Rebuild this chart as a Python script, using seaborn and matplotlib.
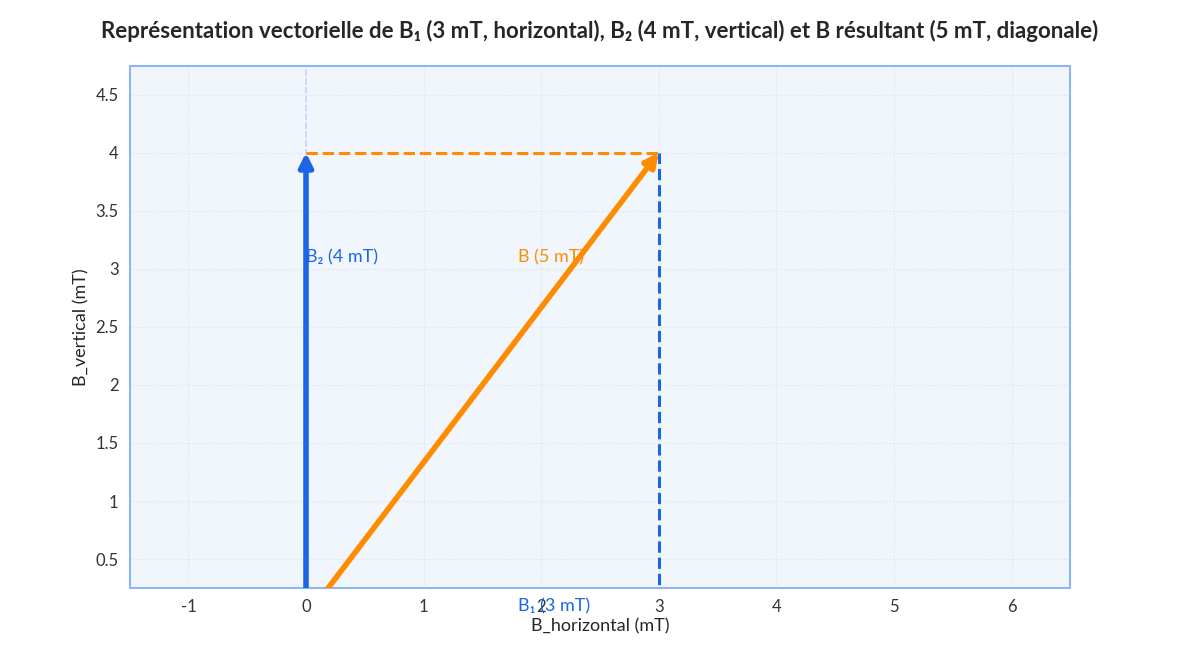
import matplotlib
matplotlib.use("Agg")
import matplotlib.pyplot as plt
import seaborn as sns
from matplotlib.patches import FancyArrowPatch
from matplotlib.ticker import FuncFormatter, MultipleLocator

# vector data (mT)
b1 = (3, 0)
b2 = (0, 4)
b_res = (3, 4)
labels = ["B₁ (3 mT)", "B₂ (4 mT)", "B (5 mT)"]
label_pos = [(1.8, 0.09), (0.0, 3.1), (1.8, 3.1)]

BLUE = "#1a66e6"
ORANGE = "#ff8c00"

sns.set_theme(style="white")
plt.rcParams["font.family"] = ["Lato", "DejaVu Sans"]

fig, ax = plt.subplots(figsize=(12, 6.55), dpi=100)
ax.set_facecolor("#f1f6fd")

ax.axvline(0, color="#c5d6f5", lw=1.2, ls="--", zorder=1)

# projection lines
ax.plot([0, b_res[0]], [b_res[1], b_res[1]], color=ORANGE, lw=2.2, ls="--", zorder=3)
ax.plot([b_res[0], b_res[0]], [0, b_res[1]], color=BLUE, lw=2.2, ls="--", zorder=3)

# vectors (clipped to the axes)
for vec, col in [(b1, BLUE), (b2, BLUE), (b_res, ORANGE)]:
    arr = FancyArrowPatch((0, 0), vec, arrowstyle="-|>", color=col, lw=4,
                          mutation_scale=20, shrinkA=0, shrinkB=0, zorder=4)
    ax.add_patch(arr)

ax.text(*label_pos[0], labels[0], color=BLUE, fontsize=13, ha="left", va="center", clip_on=False)
ax.text(*label_pos[1], labels[1], color=BLUE, fontsize=13, ha="left", va="center")
ax.text(*label_pos[2], labels[2], color=ORANGE, fontsize=13, ha="left", va="center")

ax.set_xlim(-1.5, 6.5)
ax.set_ylim(0.25, 4.75)
ax.xaxis.set_major_locator(MultipleLocator(1))
ax.yaxis.set_major_locator(MultipleLocator(0.5))
fmt = FuncFormatter(lambda v, p: f"{v:g}")
ax.xaxis.set_major_formatter(fmt)
ax.yaxis.set_major_formatter(fmt)
ax.tick_params(labelsize=12, colors="#333333", length=0, pad=8)
ax.grid(True, color="#d8e2f0", ls=":", lw=0.8)
for s in ax.spines.values():
    s.set_color("#8fb5f5")
    s.set_linewidth(1.5)

ax.set_xlabel("B_horizontal (mT)", fontsize=13, labelpad=2)
ax.set_ylabel("B_vertical (mT)", fontsize=13)
fig.suptitle("Représentation vectorielle de B₁ (3 mT, horizontal), B₂ (4 mT, vertical) et B résultant (5 mT, diagonale)",
             fontsize=16, fontweight="bold", x=0.5, y=0.97)

fig.subplots_adjust(left=0.108, right=0.892, top=0.9, bottom=0.102)
fig.savefig("out.png", dpi=100)
